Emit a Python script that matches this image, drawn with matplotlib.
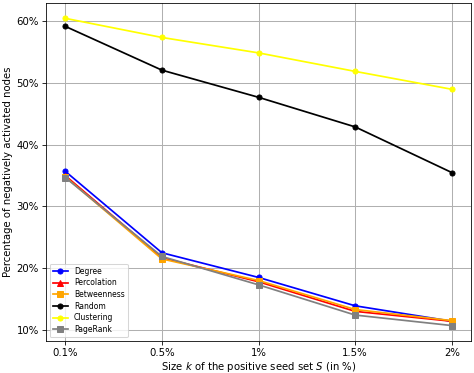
import matplotlib
matplotlib.use('Agg')
import matplotlib.pyplot as plt
from matplotlib.ticker import FuncFormatter

# data
tamanhos = ['0.1%', '0.5%', '1%', '1.5%', '2%']
degree = [35.7, 22.5, 18.5, 13.9, 11.4]
percolation = [35.0, 21.7, 17.8, 13.0, 11.4]
betweenness = [34.8, 21.5, 18.0, 13.3, 11.5]
random_ = [59.2, 52.1, 47.7, 42.9, 35.5]
clustering = [60.5, 57.4, 54.9, 51.9, 49.0]
pagerank = [34.7, 21.9, 17.3, 12.4, 10.7]

series = [
    ('Degree', degree, 'blue', 'o'),
    ('Percolation', percolation, 'red', '^'),
    ('Betweenness', betweenness, 'orange', 's'),
    ('Random', random_, 'black', 'o'),
    ('Clustering', clustering, 'yellow', 'o'),
    ('PageRank', pagerank, 'gray', 's'),
]

dpi = 73
fig = plt.figure(figsize=(474 / dpi, 373 / dpi), dpi=dpi)
ax = fig.add_axes([0.097, 0.086, 0.897, 0.906])

x = list(range(len(tamanhos)))
for nome, vals, cor, mk in series:
    ax.plot(x, vals, marker=mk, color=cor, label=nome, linewidth=1.7, markersize=5)

ax.set_xticks(x)
ax.set_xticklabels(tamanhos)
ax.yaxis.set_major_formatter(FuncFormatter(lambda v, p: '%d%%' % v))
ax.set_yticks([10, 20, 30, 40, 50, 60])
ax.set_xlabel('Size $k$ of the positive seed set $S$ (in %)', labelpad=1.5)
ax.set_ylabel('Percentage of negatively activated nodes', labelpad=3)
ax.grid(True, color='#b0b0b0', linewidth=1.0)
ax.legend(loc='lower left', fontsize=7.5, labelspacing=0.35)

fig.savefig('out.png', dpi=dpi)
